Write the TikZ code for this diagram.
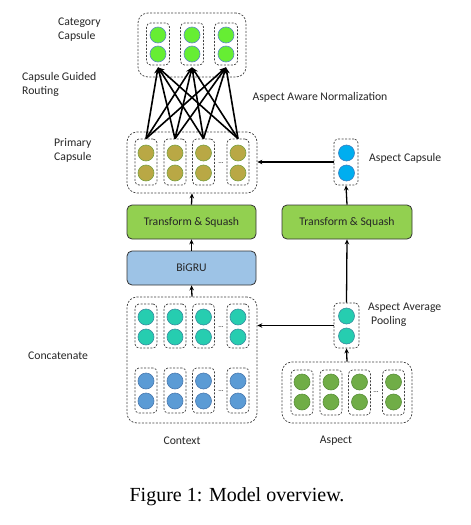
\documentclass[tikz,border=0pt]{standalone}
\usepackage{fontspec}
\setmainfont{Carlito}
\newfontfamily\capfont{Liberation Serif}
\usetikzlibrary{arrows.meta}
\definecolor{catg}{HTML}{66EE33}
\definecolor{catb}{HTML}{5B8BC0}
\definecolor{oliv}{HTML}{B9A845}
\definecolor{olivb}{HTML}{7AA040}
\definecolor{acap}{HTML}{00AEEF}
\definecolor{acapb}{HTML}{3A7FC0}
\definecolor{tealc}{HTML}{26CDB0}
\definecolor{tealb}{HTML}{3A8FA0}
\definecolor{ctxb}{HTML}{5B9BD5}
\definecolor{ctxbb}{HTML}{4A7AB0}
\definecolor{aspg}{HTML}{70AD47}
\definecolor{aspgb}{HTML}{5A8F3A}
\definecolor{trg}{HTML}{92D050}
\definecolor{gru}{HTML}{9DC3E6}
\tikzset{
  dbox/.style={draw=black!75, dashed, dash pattern=on 2pt off 1.5pt, line width=0.7pt, rounded corners=4pt, inner sep=0pt},
  obox/.style={draw=black!75, dashed, dash pattern=on 2pt off 1.5pt, line width=0.7pt, rounded corners=10pt, inner sep=0pt},
  capc/.style={circle, minimum size=16pt, inner sep=0pt, line width=0.6pt},
  proc/.style={draw=black!80, line width=0.8pt, rounded corners=5pt, minimum width=129pt, minimum height=34pt, inner sep=0pt},
  lbl/.style={font=\fontsize{11.7}{14}\selectfont, text=black!85, inner sep=0pt, align=left},
  arr/.style={-{Stealth[length=5pt,width=4.5pt]}, line width=1.3pt},
  rarr/.style={-{Stealth[length=6.5pt,width=5.5pt]}, line width=1.6pt},
  dotlbl/.style={font=\fontsize{7}{8}\selectfont, inner sep=0pt}
}
\begin{document}
\begin{tikzpicture}[x=1pt,y=-1pt]
\useasboundingbox (0,0) rectangle (471,525);
% Category capsule
\node[obox, minimum width=108pt, minimum height=64pt] (catout) at (192,45) {};
\foreach \i/\x in {1/158,2/192,3/226}{
  \node[dbox, minimum width=23pt, minimum height=42pt] (cat\i) at (\x,44) {};
  \node[capc, draw=catb, fill=catg] (cata\i) at (\x,35) {};
  \node[capc, draw=catb, fill=catg] (catb\i) at (\x,54) {};
}
% Primary capsule
\node[obox, minimum width=130pt, minimum height=61pt] (priout) at (192,162.5) {};
\foreach \i/\x in {1/146,2/175,3/203.5,4/238}{
  \node[dbox, minimum width=22pt, minimum height=46pt] (pri\i) at (\x,162) {};
  \node[capc, draw=olivb, fill=oliv] (pria\i) at (\x,153) {};
  \node[capc, draw=olivb, fill=oliv] (prib\i) at (\x,173) {};
}
\node[dotlbl] (pdots) at (221,163) {...};
% routing
\foreach \p in {1,2,3,4}{
  \foreach \c in {1,2,3}{
    \draw[rarr] (pri\p.north) -- ([yshift=-2pt]cat\c.south);
  }
}
% Aspect capsule
\node[dbox, minimum width=24pt, minimum height=46pt] (acap) at (346,162) {};
\node[capc, draw=acapb, fill=acap] (acapa) at (346.5,153) {};
\node[capc, draw=acapb, fill=acap] (acapb2) at (346.5,173) {};
% processing boxes
\node[proc, fill=trg, lbl] (tr1) at (191.5,222) {Transform \& Squash};
\node[proc, fill=trg, lbl, minimum width=130pt] (tr2) at (347,222) {Transform \& Squash};
\node[proc, fill=gru, lbl] (gru) at (191.5,268) {BiGRU};
% Context
\node[obox, minimum width=130pt, minimum height=126pt] (ctxout) at (192,360) {};
\foreach \i/\x in {1/146,2/175,3/203.5,4/238}{
  \node[dbox, minimum width=22pt, minimum height=44pt] (ctt\i) at (\x,326) {};
  \node[capc, draw=tealb, fill=tealc] (ctta\i) at (\x,317) {};
  \node[capc, draw=tealb, fill=tealc] (cttb\i) at (\x,337) {};
  \node[dbox, minimum width=22pt, minimum height=45pt] (ctb\i) at (\x,390.5) {};
  \node[capc, draw=ctxbb, fill=ctxb] (ctba\i) at (\x,381) {};
  \node[capc, draw=ctxbb, fill=ctxb] (ctbb\i) at (\x,401) {};
}
\node[dotlbl] (cdots1) at (221,327) {...};
\node[dotlbl] (cdots2) at (221,391) {...};
% Aspect pooling
\node[dbox, minimum width=25pt, minimum height=45pt] (apool) at (346.5,325.5) {};
\node[capc, draw=tealb, fill=tealc] (apoola) at (346.5,316) {};
\node[capc, draw=tealb, fill=tealc] (apoolb) at (346.5,336) {};
% Aspect
\node[obox, minimum width=130pt, minimum height=61pt] (aspout) at (347,392.5) {};
\foreach \i/\x in {1/302,2/331,3/359.5,4/393.5}{
  \node[dbox, minimum width=22pt, minimum height=45pt] (asp\i) at (\x,392.5) {};
  \node[capc, draw=aspgb, fill=aspg] (aspa\i) at (\x,382) {};
  \node[capc, draw=aspgb, fill=aspg] (aspb\i) at (\x,402) {};
}
\node[dotlbl] (adots) at (376,392) {...};
% arrows
\draw[arr] (tr1.north) -- (priout.south);
\draw[arr] (gru.north) -- (tr1.south);
\draw[arr] (ctxout.north) -- (gru.south);
\draw[arr] (tr2.north) -- (acap.south);
\draw[arr] (apool.north) -- (tr2.south);
\draw[arr] (aspout.north) -- (apool.south);
\draw[arr] (acap.west) -- (acap.west -| priout.east);
\draw[arr] (apool.west) -- (apool.west -| ctxout.east);
% labels
\node[lbl, anchor=north west] (lcat) at (58,18) {Category\\Capsule};
\node[lbl, anchor=north west] (lcgr) at (22,72) {Capsule Guided\\Routing};
\node[lbl] (laan) at (320,97) {Aspect Aware Normalization};
\node[lbl, anchor=north west] (lpri) at (54,138) {Primary\\Capsule};
\node[lbl, anchor=west] (lacap) at (369,158) {Aspect Capsule};
\node[lbl, anchor=north west] (lpool) at (368,303) {Aspect Average\\\hspace{3pt}Pooling};
\node[lbl] (lconc) at (58,356) {Concatenate};
\node[lbl] (lctx) at (182,441) {Context};
\node[lbl] (lasp) at (336,441) {Aspect};
\node[font=\capfont\fontsize{20}{24}\selectfont, inner sep=0pt] (capt) at (237,497) {Figure 1: Model overview.};
\end{tikzpicture}
\end{document}
